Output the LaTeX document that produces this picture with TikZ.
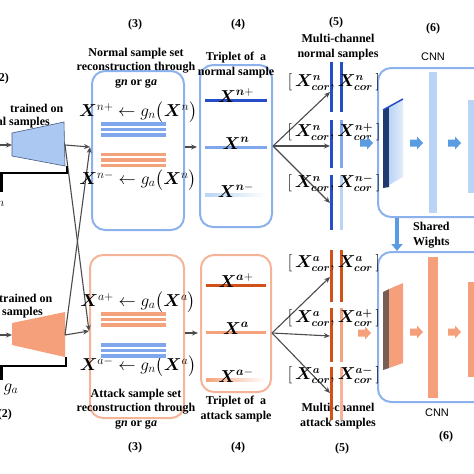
\documentclass[tikz,border=0pt]{standalone}
\usepackage{amsmath}
\usepackage{bm}
\usepackage{fontspec}
\setmainfont{Liberation Serif}
\newfontfamily\cnnfont{Liberation Sans}
\usepackage{tikz}
\usetikzlibrary{arrows.meta}

\definecolor{nedge}{RGB}{140,178,238}
\definecolor{nstripe}{RGB}{128,166,236}
\definecolor{ndark}{RGB}{38,78,200}
\definecolor{nlight}{RGB}{185,212,245}
\definecolor{nfill}{RGB}{170,200,242}
\definecolor{nblock}{RGB}{90,155,225}
\definecolor{nnavy}{RGB}{30,58,110}
\definecolor{aedge}{RGB}{245,180,152}
\definecolor{astripe}{RGB}{244,162,124}
\definecolor{adark}{RGB}{208,82,24}
\definecolor{afill}{RGB}{245,160,122}
\definecolor{abrown}{RGB}{120,95,85}
\definecolor{ink}{RGB}{75,75,75}

\tikzstyle{lbl}=[font=\bfseries\fontsize{12}{14.5}\selectfont, align=center, inner sep=0pt]
\tikzstyle{mth}=[font=\fontsize{17}{20}\selectfont, inner sep=0pt]
\tikzstyle{cmth}=[font=\fontsize{16}{20}\selectfont, inner sep=0pt]
\tikzstyle{panel}=[draw, rounded corners=13pt, line width=2pt, inner sep=0pt]
\tikzstyle{conn}=[draw=ink, line width=1.1pt, -{Stealth[length=6pt,width=5pt]}]
\tikzstyle{bus}=[draw=black, line width=2.6pt]
\newcommand{\stripeSet}[2]{% top y, colour
    \foreach \k in {0,1,2}{\fill[#2] (101,#1+\k*5.5) rectangle (166,#1+\k*5.5+3.8);}
}
\newcommand{\fatArrow}[3]{% tail x, centre y, colour
    \fill[#3] (#1,#2-3.5) -- ++(7,0) -- ++(0,-3) -- ++(6,6.5) -- ++(-6,6.5) -- ++(0,-3) -- ++(-7,0) -- cycle;
}

\begin{document}
\begin{tikzpicture}[x=1pt, y=-1pt]
    \useasboundingbox (0,0) rectangle (474,474);

    %panels
    \node[panel, draw=nedge, minimum width=92pt, minimum height=159pt] (recN) at (138,150.5) {};
    \node[panel, draw=aedge, minimum width=94pt, minimum height=163pt] (recA) at (137,336.5) {};
    \node[panel, draw=nedge, minimum width=72pt, minimum height=162pt] (tripN) at (236,146) {};
    \node[panel, draw=aedge, minimum width=70pt, minimum height=137pt] (tripA) at (236,323.5) {};
    \node[panel, draw=nedge, minimum width=150pt, minimum height=149pt] (cnnN) at (453,142.5) {};
    \node[panel, draw=nedge, minimum width=150pt, minimum height=150pt] (cnnA) at (453,327) {};

    %encoders
    \fill[nfill, draw=nstripe!55!black, line width=0.6pt] (12,133) -- (64,122) -- (65,166) -- (12,156) -- cycle;
    \fill[afill] (12,323) -- (65,312) -- (65,357) -- (12,345) -- cycle;
    \coordinate (inN) at (0,145);   \coordinate (encNin) at (12,145);  \coordinate (encNout) at (65,145);
    \coordinate (inA) at (0,335);   \coordinate (encAin) at (12,335);  \coordinate (encAout) at (65,335);
    \coordinate (hitN) at (90,147); \coordinate (hitA) at (89,331);
    \coordinate (encNcorner) at (67,166); \coordinate (encAcorner) at (66,357);

    \node[lbl, anchor=east] (stepN) at (9,79) {(2)};
    \node[lbl, anchor=west] (encNa) at (10,108) {trained on};
    \node[lbl, anchor=east] (encNb) at (50,123) {normal samples};
    \node[lbl, anchor=west] (encAa) at (-1,298) {trained on};
    \node[lbl, anchor=east] (encAb) at (43,313) {attack samples};
    \node[lbl, anchor=east] (stepA) at (12,415) {(2)};
    \node[mth] (gN) at (-3,202) {$g_n$};
    \node[mth] (gA) at (11,389) {$g_a$};

    \draw[conn] (inN) -- (encNin);
    \draw[conn] (inA) -- (encAin);
    \draw[conn] (encNout) -- (hitN);
    \draw[conn] (encNout) -- (hitA);
    \draw[conn] (encAout) -- (hitN);
    \draw[conn] (encAout) -- (hitA);
    \draw[bus] (1.5,192) |- (encNcorner |- 0,173) -- (encNcorner);
    \draw[bus] (1.5,380) |- (encAcorner |- 0,366) -- (encAcorner);

    %reconstruction
    \node[lbl] (recNt) at (136,68) {Normal sample set\\reconstruction through\\g\textit{n} or g\textit{a}};
    \node[lbl] (recNn) at (135,25) {(3)};
    \node[lbl] (recAt) at (136,409) {Attack sample set\\reconstruction through\\g\textit{n} or g\textit{a}};
    \node[lbl] (recAn) at (135,448) {(3)};
    \node[mth] (rNp) at (138,112) {$\bm{X}^{n+}\leftarrow g_n\big(\bm{X}^{n}\big)$};
    \node[mth] (rNm) at (138,180) {$\bm{X}^{n-}\leftarrow g_a\big(\bm{X}^{n}\big)$};
    \node[mth] (rAp) at (138,302) {$\bm{X}^{a+}\leftarrow g_a\big(\bm{X}^{a}\big)$};
    \node[mth] (rAm) at (138,366) {$\bm{X}^{a-}\leftarrow g_n\big(\bm{X}^{a}\big)$};
    \stripeSet{122}{nstripe}
    \stripeSet{152.5}{astripe}
    \stripeSet{312}{astripe}
    \stripeSet{343}{nstripe}
    \draw[conn, shorten >=2pt] (recN.east |- 0,147) -- (tripN.west |- 0,147);
    \draw[conn, shorten >=2pt] (recA.east |- 0,333) -- (tripA.west |- 0,333);

    %triplets
    \node[lbl] (tripNt) at (236,65) {Triplet of \ a\\normal sample};
    \node[lbl] (tripNn) at (238,25) {(4)};
    \node[lbl] (tripAt) at (236,409) {Triplet of \ a\\attack sample};
    \node[lbl] (tripAn) at (238,448) {(4)};
    \draw[ndark, line width=3pt] (205,100) -- (267,100);
    \draw[nstripe, line width=3pt] (205,147) -- (267,147);
    \shade[left color=nlight, right color=white] (205,193.5) rectangle (267,196.5);
    \draw[adark, line width=3pt] (206,285) -- (266,285);
    \draw[astripe, line width=3pt] (206,332) -- (266,332);
    \shade[left color=astripe, right color=white] (206,378.5) rectangle (266,381.5);
    \node[mth, anchor=base] (tNp) at (236,102) {$\bm{X}^{\bm{n}+}$};
    \node[mth, anchor=base] (tN) at (236,149) {$\bm{X}^{\bm{n}}$};
    \node[mth, anchor=base] (tNm) at (236,197) {$\bm{X}^{\bm{n}-}$};
    \node[mth, anchor=base] (tAp) at (236,287) {$\bm{X}^{\bm{a}+}$};
    \node[mth, anchor=base] (tA) at (236,334) {$\bm{X}^{\bm{a}}$};
    \node[mth, anchor=base] (tAm) at (236,382) {$\bm{X}^{\bm{a}-}$};

    %multi-channel
    \node[lbl] (chNn) at (336,23) {(5)};
    \node[lbl] (chNt) at (338,47) {Multi-channel\\normal samples};
    \node[lbl] (chAt) at (338,416) {Multi-channel\\attack samples};
    \node[lbl] (chAn) at (342,449) {(5)};
    \foreach \a/\b/\c in {62/112/ndark,120/168/nstripe,175/230/nlight} {
        \draw[ndark, line width=3pt] (331,\a) -- (331,\b);
        \draw[\c, line width=3pt] (341,\a) -- (341,\b);
    }
    \foreach \a/\b/\c in {250/302/adark,308/362/astripe,367/420/aedge} {
        \draw[adark, line width=3pt] (331,\a) -- (331,\b);
        \draw[\c, line width=3pt] (341,\a) -- (341,\b);
    }
    \foreach \i/\y in {1/92,2/146,3/203} {
        \coordinate (chN\i) at (330,\y);
        \draw[conn] (tripN.east |- 0,146) -- (chN\i);
    }
    \foreach \i/\y in {1/277,2/336,3/393} {
        \coordinate (chA\i) at (330,\y);
        \draw[conn] (tripA.east |- 0,333) -- (chA\i);
    }
    \node[cmth] (pN1) at (334,82) {$[\,\bm{X^{n}_{cor}},\bm{X^{n}_{cor}}\,]$};
    \node[cmth] (pN2) at (334,132) {$[\,\bm{X^{n}_{cor}},\bm{X^{n+}_{cor}}\,]$};
    \node[cmth] (pN3) at (334,183) {$[\,\bm{X^{n}_{cor}},\bm{X^{n-}_{cor}}\,]$};
    \node[cmth] (pA1) at (334,263) {$[\,\bm{X^{a}_{cor}},\bm{X^{a}_{cor}}\,]$};
    \node[cmth] (pA2) at (334,318) {$[\,\bm{X^{a}_{cor}},\bm{X^{a+}_{cor}}\,]$};
    \node[cmth] (pA3) at (334,375) {$[\,\bm{X^{a}_{cor}},\bm{X^{a-}_{cor}}\,]$};

    %cnn
    \node[lbl] (cnnNn) at (433,29) {(6)};
    \node[font=\cnnfont\fontsize{11}{13}\selectfont, inner sep=0pt] (cnnNt) at (433,57) {CNN};
    \node[font=\cnnfont\fontsize{11}{13}\selectfont, inner sep=0pt] (cnnAt) at (437,413) {CNN};
    \node[lbl] (cnnAn) at (446,437) {(6)};
    \fatArrow{360}{143}{nblock}
    \fatArrow{410}{143}{nblock}
    \fatArrow{448}{143}{nblock}
    \fatArrow{358}{333}{afill}
    \fatArrow{410}{332}{afill}
    \fatArrow{448}{332}{afill}
    \fill[nnavy] (383,110) -- (389,107) -- (389,187) -- (383,188) -- cycle;
    \shade[left color=nlight, right color=nlight!40] (389,107) -- (403,99) -- (403,177) -- (389,185) -- cycle;
    \draw[ndark, line width=1.5pt] (383,110) -- (403,99);
    \fill[nlight] (429,72) rectangle (437,213);
    \fill[nlight] (468,100) rectangle (480,193);
    \fill[abrown] (383,292) -- (389,289) -- (389,368) -- (383,370) -- cycle;
    \fill[afill] (389,289) -- (403,283) -- (403,363) -- (389,368) -- cycle;
    \fill[afill] (428,257) rectangle (438,398);
    \fill[afill] (468,282) rectangle (480,377);

    %shared weights
    \coordinate (sw) at (397,0);
    \draw[nblock, line width=4.5pt, -{Triangle[length=7pt,width=11pt]}] (cnnN.south -| sw) -- (cnnA.north -| sw);
    \node[lbl, align=left, anchor=west] (swt) at (413,235) {Shared\\Wights};

\end{tikzpicture}
\end{document}
